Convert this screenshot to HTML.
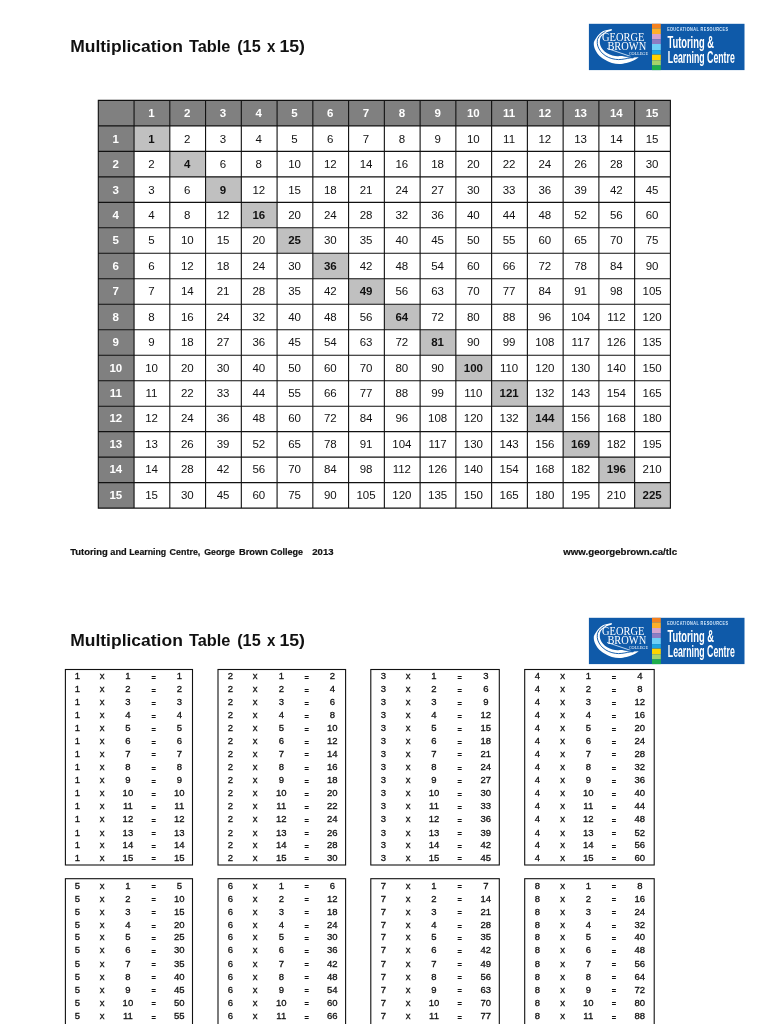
<!DOCTYPE html>
<html lang="en">
<head>
<meta charset="utf-8">
<title>Multiplication Table (15 x 15)</title>
<style>
html,body{margin:0;padding:0;background:#fff;}
body{width:768px;height:1024px;overflow:hidden;}
svg{display:block;}
text{font-family:"Liberation Sans",sans-serif;}
.logo .sf{font-family:"Liberation Serif",serif;}
.title{font-weight:bold;font-size:16.3px;fill:#111;}
.grid text{font-size:11.5px;text-anchor:middle;}
.grid .h{fill:#fff;font-weight:bold;}
.grid .d{fill:#111;font-weight:bold;}
.grid .n{fill:#111;}
.foot{font-weight:bold;font-size:9.4px;fill:#111;stroke:#111;stroke-width:0.2px;}
.tables .e{font-size:7.4px;}
.tables text{font-size:9.5px;fill:#111;text-anchor:middle;stroke:#111;stroke-width:0.3px;}
</style>
</head>
<body>
<svg width="768" height="1024" viewBox="0 0 768 1024">
<rect width="768" height="1024" fill="#fff"/>
<text class="title" y="52.1"><tspan x="70.2" textLength="117.5" lengthAdjust="spacingAndGlyphs">Multiplication </tspan><tspan x="189" textLength="46" lengthAdjust="spacingAndGlyphs">Table </tspan><tspan x="237.2" textLength="28" lengthAdjust="spacingAndGlyphs">(15 </tspan><tspan x="267" textLength="12.6" lengthAdjust="spacingAndGlyphs">x </tspan><tspan x="279.4" textLength="25.6" lengthAdjust="spacingAndGlyphs">15)</tspan></text>
<g class="logo" transform="translate(0,0)">
<rect x="588.9" y="23.8" width="155.6" height="46.3" fill="#0f5aa9"/>
<rect x="652" y="23.8" width="8.8" height="4.6" fill="#f58220"/>
<rect x="652" y="28.4" width="8.8" height="5.6" fill="#fdb02a"/>
<rect x="652" y="34" width="8.8" height="5.4" fill="#d3a3cf"/>
<rect x="652" y="39.4" width="8.8" height="4.6" fill="#8e7cc3"/>
<rect x="652" y="44" width="8.8" height="6.2" fill="#6fd0f6"/>
<rect x="652" y="50.2" width="8.8" height="4" fill="#1ea6e0"/>
<rect x="652" y="54.6" width="8.8" height="5.8" fill="#ffd400"/>
<rect x="652" y="60.4" width="8.8" height="5" fill="#a6d36a"/>
<rect x="652" y="65.4" width="8.8" height="4.7" fill="#1fae4b"/>
<path d="M611.8 28.9C610.5 29.2 606.3 29.7 604.1 30.7C601.9 31.7 599.9 33.3 598.4 34.9C596.9 36.5 595.7 38.6 594.9 40.1C594.1 41.6 593.8 42.2 593.8 43.6C593.8 45.0 593.9 46.4 594.6 48.2C595.3 50.0 596.6 52.5 598.2 54.4C599.9 56.3 602.2 58.2 604.5 59.6C606.8 61.0 609.4 62.2 611.9 62.9C614.4 63.6 616.8 63.9 619.2 63.9C621.6 63.9 624.2 63.4 626.5 62.9C628.8 62.4 631.0 61.7 633.0 60.7C635.0 59.8 637.8 57.8 638.7 57.2L633.2 57.6C632.2 57.4 628.9 56.9 627.0 56.6C625.1 56.4 623.4 56.2 621.8 56.1C620.2 56.0 619.2 56.3 617.6 56.2C616.0 56.1 614.1 55.9 612.4 55.4C610.7 54.9 608.8 54.2 607.2 53.3C605.6 52.3 604.1 51.0 603.0 49.7C601.9 48.4 600.9 46.8 600.4 45.4C599.9 44.0 599.7 42.7 599.8 41.2C599.9 39.7 600.3 37.9 601.2 36.6C602.1 35.3 603.3 34.2 605.1 33.2C606.9 32.2 610.7 31.0 611.8 30.6Z" fill="#fff"/>
<path d="M605.4 31.5C604.6 32.0 601.9 33.6 600.7 34.7C599.5 35.8 598.7 37.0 598.1 38.1C597.5 39.2 597.3 39.9 597.3 41.2C597.2 42.5 597.2 44.4 597.8 46.1C598.4 47.9 599.5 50.0 600.8 51.6C602.1 53.2 604.0 54.9 605.9 56.0C607.7 57.2 609.8 58.0 611.9 58.6C614.0 59.2 616.5 59.6 618.6 59.6C620.8 59.6 623.0 59.2 624.9 58.9C626.8 58.6 628.8 58.1 630.2 57.9C631.6 57.7 632.9 57.7 633.4 57.7" fill="none" stroke="#0f5aa9" stroke-width="0.95"/>
<path d="M607 48.4 L630.6 56.4" fill="none" stroke="#cfe3f7" stroke-width="0.9"/>
<path d="M622.6 56 L634.6 56.7 L632.6 58.2 C629 57.7 625.6 56.9 622.6 56 Z" fill="#0f5aa9"/>
<text x="602" y="41.4" class="sf" font-size="13.2" fill="#fff" textLength="42.3" lengthAdjust="spacingAndGlyphs">GEORGE</text>
<text x="607.4" y="49.6" class="sf" font-size="11.9" fill="#fff" textLength="38.8" lengthAdjust="spacingAndGlyphs">BROWN</text>
<text x="628.8" y="54.5" class="sf" font-size="4.2" fill="#fff" textLength="19.2" lengthAdjust="spacingAndGlyphs">COLLEGE</text>
<text transform="translate(667.2,31.3) scale(0.62,1)" font-weight="bold" font-size="6.1" letter-spacing="0.7" fill="#d6e9fb">EDUCATIONAL RESOURCES</text>
<text x="667.4" y="47.5" font-weight="bold" font-size="16.2" fill="#fff" textLength="46.6" lengthAdjust="spacingAndGlyphs">Tutoring &amp;</text>
<text x="667.8" y="63.4" font-weight="bold" font-size="16.2" fill="#fff" textLength="67" lengthAdjust="spacingAndGlyphs">Learning Centre</text>
</g>
<g class="grid">
<rect x="98.3" y="100.4" width="572.1" height="25.48" fill="#808080"/>
<rect x="98.3" y="100.4" width="35.76" height="407.7" fill="#808080"/>
<rect x="134.06" y="125.88" width="35.76" height="25.48" fill="#c0c0c0"/>
<rect x="169.81" y="151.36" width="35.76" height="25.48" fill="#c0c0c0"/>
<rect x="205.57" y="176.84" width="35.76" height="25.48" fill="#c0c0c0"/>
<rect x="241.32" y="202.33" width="35.76" height="25.48" fill="#c0c0c0"/>
<rect x="277.08" y="227.81" width="35.76" height="25.48" fill="#c0c0c0"/>
<rect x="312.84" y="253.29" width="35.76" height="25.48" fill="#c0c0c0"/>
<rect x="348.59" y="278.77" width="35.76" height="25.48" fill="#c0c0c0"/>
<rect x="384.35" y="304.25" width="35.76" height="25.48" fill="#c0c0c0"/>
<rect x="420.11" y="329.73" width="35.76" height="25.48" fill="#c0c0c0"/>
<rect x="455.86" y="355.21" width="35.76" height="25.48" fill="#c0c0c0"/>
<rect x="491.62" y="380.69" width="35.76" height="25.48" fill="#c0c0c0"/>
<rect x="527.38" y="406.18" width="35.76" height="25.48" fill="#c0c0c0"/>
<rect x="563.13" y="431.66" width="35.76" height="25.48" fill="#c0c0c0"/>
<rect x="598.89" y="457.14" width="35.76" height="25.48" fill="#c0c0c0"/>
<rect x="634.64" y="482.62" width="35.76" height="25.48" fill="#c0c0c0"/>
<path d="M98.3 99.9V508.6M97.8 100.4H670.9M134.06 99.9V508.6M97.8 125.88H670.9M169.81 99.9V508.6M97.8 151.36H670.9M205.57 99.9V508.6M97.8 176.84H670.9M241.32 99.9V508.6M97.8 202.33H670.9M277.08 99.9V508.6M97.8 227.81H670.9M312.84 99.9V508.6M97.8 253.29H670.9M348.59 99.9V508.6M97.8 278.77H670.9M384.35 99.9V508.6M97.8 304.25H670.9M420.11 99.9V508.6M97.8 329.73H670.9M455.86 99.9V508.6M97.8 355.21H670.9M491.62 99.9V508.6M97.8 380.69H670.9M527.38 99.9V508.6M97.8 406.18H670.9M563.13 99.9V508.6M97.8 431.66H670.9M598.89 99.9V508.6M97.8 457.14H670.9M634.64 99.9V508.6M97.8 482.62H670.9M670.4 99.9V508.6M97.8 508.1H670.9" stroke="#111" stroke-width="1.1" fill="none"/>
<text class="h" x="151.53" y="116.5">1</text><text class="h" x="187.29" y="116.5">2</text><text class="h" x="223.05" y="116.5">3</text><text class="h" x="258.8" y="116.5">4</text><text class="h" x="294.56" y="116.5">5</text><text class="h" x="330.32" y="116.5">6</text><text class="h" x="366.07" y="116.5">7</text><text class="h" x="401.83" y="116.5">8</text><text class="h" x="437.58" y="116.5">9</text><text class="h" x="473.34" y="116.5">10</text><text class="h" x="509.1" y="116.5">11</text><text class="h" x="544.85" y="116.5">12</text><text class="h" x="580.61" y="116.5">13</text><text class="h" x="616.37" y="116.5">14</text><text class="h" x="652.12" y="116.5">15</text>
<text class="h" x="115.78" y="142.73">1</text><text class="d" x="151.53" y="142.73">1</text><text class="n" x="187.29" y="142.73">2</text><text class="n" x="223.05" y="142.73">3</text><text class="n" x="258.8" y="142.73">4</text><text class="n" x="294.56" y="142.73">5</text><text class="n" x="330.32" y="142.73">6</text><text class="n" x="366.07" y="142.73">7</text><text class="n" x="401.83" y="142.73">8</text><text class="n" x="437.58" y="142.73">9</text><text class="n" x="473.34" y="142.73">10</text><text class="n" x="509.1" y="142.73">11</text><text class="n" x="544.85" y="142.73">12</text><text class="n" x="580.61" y="142.73">13</text><text class="n" x="616.37" y="142.73">14</text><text class="n" x="652.12" y="142.73">15</text>
<text class="h" x="115.78" y="168.16">2</text><text class="n" x="151.53" y="168.16">2</text><text class="d" x="187.29" y="168.16">4</text><text class="n" x="223.05" y="168.16">6</text><text class="n" x="258.8" y="168.16">8</text><text class="n" x="294.56" y="168.16">10</text><text class="n" x="330.32" y="168.16">12</text><text class="n" x="366.07" y="168.16">14</text><text class="n" x="401.83" y="168.16">16</text><text class="n" x="437.58" y="168.16">18</text><text class="n" x="473.34" y="168.16">20</text><text class="n" x="509.1" y="168.16">22</text><text class="n" x="544.85" y="168.16">24</text><text class="n" x="580.61" y="168.16">26</text><text class="n" x="616.37" y="168.16">28</text><text class="n" x="652.12" y="168.16">30</text>
<text class="h" x="115.78" y="193.59">3</text><text class="n" x="151.53" y="193.59">3</text><text class="n" x="187.29" y="193.59">6</text><text class="d" x="223.05" y="193.59">9</text><text class="n" x="258.8" y="193.59">12</text><text class="n" x="294.56" y="193.59">15</text><text class="n" x="330.32" y="193.59">18</text><text class="n" x="366.07" y="193.59">21</text><text class="n" x="401.83" y="193.59">24</text><text class="n" x="437.58" y="193.59">27</text><text class="n" x="473.34" y="193.59">30</text><text class="n" x="509.1" y="193.59">33</text><text class="n" x="544.85" y="193.59">36</text><text class="n" x="580.61" y="193.59">39</text><text class="n" x="616.37" y="193.59">42</text><text class="n" x="652.12" y="193.59">45</text>
<text class="h" x="115.78" y="219.02">4</text><text class="n" x="151.53" y="219.02">4</text><text class="n" x="187.29" y="219.02">8</text><text class="n" x="223.05" y="219.02">12</text><text class="d" x="258.8" y="219.02">16</text><text class="n" x="294.56" y="219.02">20</text><text class="n" x="330.32" y="219.02">24</text><text class="n" x="366.07" y="219.02">28</text><text class="n" x="401.83" y="219.02">32</text><text class="n" x="437.58" y="219.02">36</text><text class="n" x="473.34" y="219.02">40</text><text class="n" x="509.1" y="219.02">44</text><text class="n" x="544.85" y="219.02">48</text><text class="n" x="580.61" y="219.02">52</text><text class="n" x="616.37" y="219.02">56</text><text class="n" x="652.12" y="219.02">60</text>
<text class="h" x="115.78" y="244.45">5</text><text class="n" x="151.53" y="244.45">5</text><text class="n" x="187.29" y="244.45">10</text><text class="n" x="223.05" y="244.45">15</text><text class="n" x="258.8" y="244.45">20</text><text class="d" x="294.56" y="244.45">25</text><text class="n" x="330.32" y="244.45">30</text><text class="n" x="366.07" y="244.45">35</text><text class="n" x="401.83" y="244.45">40</text><text class="n" x="437.58" y="244.45">45</text><text class="n" x="473.34" y="244.45">50</text><text class="n" x="509.1" y="244.45">55</text><text class="n" x="544.85" y="244.45">60</text><text class="n" x="580.61" y="244.45">65</text><text class="n" x="616.37" y="244.45">70</text><text class="n" x="652.12" y="244.45">75</text>
<text class="h" x="115.78" y="269.88">6</text><text class="n" x="151.53" y="269.88">6</text><text class="n" x="187.29" y="269.88">12</text><text class="n" x="223.05" y="269.88">18</text><text class="n" x="258.8" y="269.88">24</text><text class="n" x="294.56" y="269.88">30</text><text class="d" x="330.32" y="269.88">36</text><text class="n" x="366.07" y="269.88">42</text><text class="n" x="401.83" y="269.88">48</text><text class="n" x="437.58" y="269.88">54</text><text class="n" x="473.34" y="269.88">60</text><text class="n" x="509.1" y="269.88">66</text><text class="n" x="544.85" y="269.88">72</text><text class="n" x="580.61" y="269.88">78</text><text class="n" x="616.37" y="269.88">84</text><text class="n" x="652.12" y="269.88">90</text>
<text class="h" x="115.78" y="295.31">7</text><text class="n" x="151.53" y="295.31">7</text><text class="n" x="187.29" y="295.31">14</text><text class="n" x="223.05" y="295.31">21</text><text class="n" x="258.8" y="295.31">28</text><text class="n" x="294.56" y="295.31">35</text><text class="n" x="330.32" y="295.31">42</text><text class="d" x="366.07" y="295.31">49</text><text class="n" x="401.83" y="295.31">56</text><text class="n" x="437.58" y="295.31">63</text><text class="n" x="473.34" y="295.31">70</text><text class="n" x="509.1" y="295.31">77</text><text class="n" x="544.85" y="295.31">84</text><text class="n" x="580.61" y="295.31">91</text><text class="n" x="616.37" y="295.31">98</text><text class="n" x="652.12" y="295.31">105</text>
<text class="h" x="115.78" y="320.74">8</text><text class="n" x="151.53" y="320.74">8</text><text class="n" x="187.29" y="320.74">16</text><text class="n" x="223.05" y="320.74">24</text><text class="n" x="258.8" y="320.74">32</text><text class="n" x="294.56" y="320.74">40</text><text class="n" x="330.32" y="320.74">48</text><text class="n" x="366.07" y="320.74">56</text><text class="d" x="401.83" y="320.74">64</text><text class="n" x="437.58" y="320.74">72</text><text class="n" x="473.34" y="320.74">80</text><text class="n" x="509.1" y="320.74">88</text><text class="n" x="544.85" y="320.74">96</text><text class="n" x="580.61" y="320.74">104</text><text class="n" x="616.37" y="320.74">112</text><text class="n" x="652.12" y="320.74">120</text>
<text class="h" x="115.78" y="346.17">9</text><text class="n" x="151.53" y="346.17">9</text><text class="n" x="187.29" y="346.17">18</text><text class="n" x="223.05" y="346.17">27</text><text class="n" x="258.8" y="346.17">36</text><text class="n" x="294.56" y="346.17">45</text><text class="n" x="330.32" y="346.17">54</text><text class="n" x="366.07" y="346.17">63</text><text class="n" x="401.83" y="346.17">72</text><text class="d" x="437.58" y="346.17">81</text><text class="n" x="473.34" y="346.17">90</text><text class="n" x="509.1" y="346.17">99</text><text class="n" x="544.85" y="346.17">108</text><text class="n" x="580.61" y="346.17">117</text><text class="n" x="616.37" y="346.17">126</text><text class="n" x="652.12" y="346.17">135</text>
<text class="h" x="115.78" y="371.6">10</text><text class="n" x="151.53" y="371.6">10</text><text class="n" x="187.29" y="371.6">20</text><text class="n" x="223.05" y="371.6">30</text><text class="n" x="258.8" y="371.6">40</text><text class="n" x="294.56" y="371.6">50</text><text class="n" x="330.32" y="371.6">60</text><text class="n" x="366.07" y="371.6">70</text><text class="n" x="401.83" y="371.6">80</text><text class="n" x="437.58" y="371.6">90</text><text class="d" x="473.34" y="371.6">100</text><text class="n" x="509.1" y="371.6">110</text><text class="n" x="544.85" y="371.6">120</text><text class="n" x="580.61" y="371.6">130</text><text class="n" x="616.37" y="371.6">140</text><text class="n" x="652.12" y="371.6">150</text>
<text class="h" x="115.78" y="397.03">11</text><text class="n" x="151.53" y="397.03">11</text><text class="n" x="187.29" y="397.03">22</text><text class="n" x="223.05" y="397.03">33</text><text class="n" x="258.8" y="397.03">44</text><text class="n" x="294.56" y="397.03">55</text><text class="n" x="330.32" y="397.03">66</text><text class="n" x="366.07" y="397.03">77</text><text class="n" x="401.83" y="397.03">88</text><text class="n" x="437.58" y="397.03">99</text><text class="n" x="473.34" y="397.03">110</text><text class="d" x="509.1" y="397.03">121</text><text class="n" x="544.85" y="397.03">132</text><text class="n" x="580.61" y="397.03">143</text><text class="n" x="616.37" y="397.03">154</text><text class="n" x="652.12" y="397.03">165</text>
<text class="h" x="115.78" y="422.46">12</text><text class="n" x="151.53" y="422.46">12</text><text class="n" x="187.29" y="422.46">24</text><text class="n" x="223.05" y="422.46">36</text><text class="n" x="258.8" y="422.46">48</text><text class="n" x="294.56" y="422.46">60</text><text class="n" x="330.32" y="422.46">72</text><text class="n" x="366.07" y="422.46">84</text><text class="n" x="401.83" y="422.46">96</text><text class="n" x="437.58" y="422.46">108</text><text class="n" x="473.34" y="422.46">120</text><text class="n" x="509.1" y="422.46">132</text><text class="d" x="544.85" y="422.46">144</text><text class="n" x="580.61" y="422.46">156</text><text class="n" x="616.37" y="422.46">168</text><text class="n" x="652.12" y="422.46">180</text>
<text class="h" x="115.78" y="447.89">13</text><text class="n" x="151.53" y="447.89">13</text><text class="n" x="187.29" y="447.89">26</text><text class="n" x="223.05" y="447.89">39</text><text class="n" x="258.8" y="447.89">52</text><text class="n" x="294.56" y="447.89">65</text><text class="n" x="330.32" y="447.89">78</text><text class="n" x="366.07" y="447.89">91</text><text class="n" x="401.83" y="447.89">104</text><text class="n" x="437.58" y="447.89">117</text><text class="n" x="473.34" y="447.89">130</text><text class="n" x="509.1" y="447.89">143</text><text class="n" x="544.85" y="447.89">156</text><text class="d" x="580.61" y="447.89">169</text><text class="n" x="616.37" y="447.89">182</text><text class="n" x="652.12" y="447.89">195</text>
<text class="h" x="115.78" y="473.32">14</text><text class="n" x="151.53" y="473.32">14</text><text class="n" x="187.29" y="473.32">28</text><text class="n" x="223.05" y="473.32">42</text><text class="n" x="258.8" y="473.32">56</text><text class="n" x="294.56" y="473.32">70</text><text class="n" x="330.32" y="473.32">84</text><text class="n" x="366.07" y="473.32">98</text><text class="n" x="401.83" y="473.32">112</text><text class="n" x="437.58" y="473.32">126</text><text class="n" x="473.34" y="473.32">140</text><text class="n" x="509.1" y="473.32">154</text><text class="n" x="544.85" y="473.32">168</text><text class="n" x="580.61" y="473.32">182</text><text class="d" x="616.37" y="473.32">196</text><text class="n" x="652.12" y="473.32">210</text>
<text class="h" x="115.78" y="498.75">15</text><text class="n" x="151.53" y="498.75">15</text><text class="n" x="187.29" y="498.75">30</text><text class="n" x="223.05" y="498.75">45</text><text class="n" x="258.8" y="498.75">60</text><text class="n" x="294.56" y="498.75">75</text><text class="n" x="330.32" y="498.75">90</text><text class="n" x="366.07" y="498.75">105</text><text class="n" x="401.83" y="498.75">120</text><text class="n" x="437.58" y="498.75">135</text><text class="n" x="473.34" y="498.75">150</text><text class="n" x="509.1" y="498.75">165</text><text class="n" x="544.85" y="498.75">180</text><text class="n" x="580.61" y="498.75">195</text><text class="n" x="616.37" y="498.75">210</text><text class="d" x="652.12" y="498.75">225</text>
</g>
<text class="foot" y="554.7"><tspan x="70.2" textLength="40.2" lengthAdjust="spacingAndGlyphs">Tutoring </tspan><tspan x="110.3" textLength="19" lengthAdjust="spacingAndGlyphs">and </tspan><tspan x="129.2" textLength="39.4" lengthAdjust="spacingAndGlyphs">Learning </tspan><tspan x="169.6" textLength="33.2" lengthAdjust="spacingAndGlyphs">Centre, </tspan><tspan x="204.2" textLength="33.2" lengthAdjust="spacingAndGlyphs">George </tspan><tspan x="239" textLength="31.4" lengthAdjust="spacingAndGlyphs">Brown </tspan><tspan x="270.4" textLength="35" lengthAdjust="spacingAndGlyphs">College </tspan><tspan x="312.3" textLength="21.2" lengthAdjust="spacingAndGlyphs">2013</tspan></text>
<text class="foot" x="563.3" y="554.7" textLength="113.8" lengthAdjust="spacingAndGlyphs">www.georgebrown.ca/tlc</text>
<text class="title" y="646.3"><tspan x="70.2" textLength="117.5" lengthAdjust="spacingAndGlyphs">Multiplication </tspan><tspan x="189" textLength="46" lengthAdjust="spacingAndGlyphs">Table </tspan><tspan x="237.2" textLength="28" lengthAdjust="spacingAndGlyphs">(15 </tspan><tspan x="267" textLength="12.6" lengthAdjust="spacingAndGlyphs">x </tspan><tspan x="279.4" textLength="25.6" lengthAdjust="spacingAndGlyphs">15)</tspan></text>
<g class="logo" transform="translate(0,594)">
<rect x="588.9" y="23.8" width="155.6" height="46.3" fill="#0f5aa9"/>
<rect x="652" y="23.8" width="8.8" height="4.6" fill="#f58220"/>
<rect x="652" y="28.4" width="8.8" height="5.6" fill="#fdb02a"/>
<rect x="652" y="34" width="8.8" height="5.4" fill="#d3a3cf"/>
<rect x="652" y="39.4" width="8.8" height="4.6" fill="#8e7cc3"/>
<rect x="652" y="44" width="8.8" height="6.2" fill="#6fd0f6"/>
<rect x="652" y="50.2" width="8.8" height="4" fill="#1ea6e0"/>
<rect x="652" y="54.6" width="8.8" height="5.8" fill="#ffd400"/>
<rect x="652" y="60.4" width="8.8" height="5" fill="#a6d36a"/>
<rect x="652" y="65.4" width="8.8" height="4.7" fill="#1fae4b"/>
<path d="M611.8 28.9C610.5 29.2 606.3 29.7 604.1 30.7C601.9 31.7 599.9 33.3 598.4 34.9C596.9 36.5 595.7 38.6 594.9 40.1C594.1 41.6 593.8 42.2 593.8 43.6C593.8 45.0 593.9 46.4 594.6 48.2C595.3 50.0 596.6 52.5 598.2 54.4C599.9 56.3 602.2 58.2 604.5 59.6C606.8 61.0 609.4 62.2 611.9 62.9C614.4 63.6 616.8 63.9 619.2 63.9C621.6 63.9 624.2 63.4 626.5 62.9C628.8 62.4 631.0 61.7 633.0 60.7C635.0 59.8 637.8 57.8 638.7 57.2L633.2 57.6C632.2 57.4 628.9 56.9 627.0 56.6C625.1 56.4 623.4 56.2 621.8 56.1C620.2 56.0 619.2 56.3 617.6 56.2C616.0 56.1 614.1 55.9 612.4 55.4C610.7 54.9 608.8 54.2 607.2 53.3C605.6 52.3 604.1 51.0 603.0 49.7C601.9 48.4 600.9 46.8 600.4 45.4C599.9 44.0 599.7 42.7 599.8 41.2C599.9 39.7 600.3 37.9 601.2 36.6C602.1 35.3 603.3 34.2 605.1 33.2C606.9 32.2 610.7 31.0 611.8 30.6Z" fill="#fff"/>
<path d="M605.4 31.5C604.6 32.0 601.9 33.6 600.7 34.7C599.5 35.8 598.7 37.0 598.1 38.1C597.5 39.2 597.3 39.9 597.3 41.2C597.2 42.5 597.2 44.4 597.8 46.1C598.4 47.9 599.5 50.0 600.8 51.6C602.1 53.2 604.0 54.9 605.9 56.0C607.7 57.2 609.8 58.0 611.9 58.6C614.0 59.2 616.5 59.6 618.6 59.6C620.8 59.6 623.0 59.2 624.9 58.9C626.8 58.6 628.8 58.1 630.2 57.9C631.6 57.7 632.9 57.7 633.4 57.7" fill="none" stroke="#0f5aa9" stroke-width="0.95"/>
<path d="M607 48.4 L630.6 56.4" fill="none" stroke="#cfe3f7" stroke-width="0.9"/>
<path d="M622.6 56 L634.6 56.7 L632.6 58.2 C629 57.7 625.6 56.9 622.6 56 Z" fill="#0f5aa9"/>
<text x="602" y="41.4" class="sf" font-size="13.2" fill="#fff" textLength="42.3" lengthAdjust="spacingAndGlyphs">GEORGE</text>
<text x="607.4" y="49.6" class="sf" font-size="11.9" fill="#fff" textLength="38.8" lengthAdjust="spacingAndGlyphs">BROWN</text>
<text x="628.8" y="54.5" class="sf" font-size="4.2" fill="#fff" textLength="19.2" lengthAdjust="spacingAndGlyphs">COLLEGE</text>
<text transform="translate(667.2,31.3) scale(0.62,1)" font-weight="bold" font-size="6.1" letter-spacing="0.7" fill="#d6e9fb">EDUCATIONAL RESOURCES</text>
<text x="667.4" y="47.5" font-weight="bold" font-size="16.2" fill="#fff" textLength="46.6" lengthAdjust="spacingAndGlyphs">Tutoring &amp;</text>
<text x="667.8" y="63.4" font-weight="bold" font-size="16.2" fill="#fff" textLength="67" lengthAdjust="spacingAndGlyphs">Learning Centre</text>
</g>
<g class="tables">
<rect x="65.4" y="669.5" width="127.1" height="195.5" fill="none" stroke="#111" stroke-width="1.1"/>
<text class="t" y="679.1"><tspan x="77.5">1</tspan><tspan x="102.1">x</tspan><tspan x="127.9">1</tspan><tspan class="e" x="153.7" dy="0.5">=</tspan><tspan x="179.3" dy="-0.5">1</tspan></text>
<text class="t" y="692"><tspan x="77.5">1</tspan><tspan x="102.1">x</tspan><tspan x="127.9">2</tspan><tspan class="e" x="153.7" dy="0.5">=</tspan><tspan x="179.3" dy="-0.5">2</tspan></text>
<text class="t" y="705"><tspan x="77.5">1</tspan><tspan x="102.1">x</tspan><tspan x="127.9">3</tspan><tspan class="e" x="153.7" dy="0.5">=</tspan><tspan x="179.3" dy="-0.5">3</tspan></text>
<text class="t" y="718.2"><tspan x="77.5">1</tspan><tspan x="102.1">x</tspan><tspan x="127.9">4</tspan><tspan class="e" x="153.7" dy="0.5">=</tspan><tspan x="179.3" dy="-0.5">4</tspan></text>
<text class="t" y="731.3"><tspan x="77.5">1</tspan><tspan x="102.1">x</tspan><tspan x="127.9">5</tspan><tspan class="e" x="153.7" dy="0.5">=</tspan><tspan x="179.3" dy="-0.5">5</tspan></text>
<text class="t" y="744.3"><tspan x="77.5">1</tspan><tspan x="102.1">x</tspan><tspan x="127.9">6</tspan><tspan class="e" x="153.7" dy="0.5">=</tspan><tspan x="179.3" dy="-0.5">6</tspan></text>
<text class="t" y="756.8"><tspan x="77.5">1</tspan><tspan x="102.1">x</tspan><tspan x="127.9">7</tspan><tspan class="e" x="153.7" dy="0.5">=</tspan><tspan x="179.3" dy="-0.5">7</tspan></text>
<text class="t" y="770"><tspan x="77.5">1</tspan><tspan x="102.1">x</tspan><tspan x="127.9">8</tspan><tspan class="e" x="153.7" dy="0.5">=</tspan><tspan x="179.3" dy="-0.5">8</tspan></text>
<text class="t" y="783.4"><tspan x="77.5">1</tspan><tspan x="102.1">x</tspan><tspan x="127.9">9</tspan><tspan class="e" x="153.7" dy="0.5">=</tspan><tspan x="179.3" dy="-0.5">9</tspan></text>
<text class="t" y="796.3"><tspan x="77.5">1</tspan><tspan x="102.1">x</tspan><tspan x="127.9">10</tspan><tspan class="e" x="153.7" dy="0.5">=</tspan><tspan x="179.3" dy="-0.5">10</tspan></text>
<text class="t" y="809.2"><tspan x="77.5">1</tspan><tspan x="102.1">x</tspan><tspan x="127.9">11</tspan><tspan class="e" x="153.7" dy="0.5">=</tspan><tspan x="179.3" dy="-0.5">11</tspan></text>
<text class="t" y="822.3"><tspan x="77.5">1</tspan><tspan x="102.1">x</tspan><tspan x="127.9">12</tspan><tspan class="e" x="153.7" dy="0.5">=</tspan><tspan x="179.3" dy="-0.5">12</tspan></text>
<text class="t" y="835.5"><tspan x="77.5">1</tspan><tspan x="102.1">x</tspan><tspan x="127.9">13</tspan><tspan class="e" x="153.7" dy="0.5">=</tspan><tspan x="179.3" dy="-0.5">13</tspan></text>
<text class="t" y="848"><tspan x="77.5">1</tspan><tspan x="102.1">x</tspan><tspan x="127.9">14</tspan><tspan class="e" x="153.7" dy="0.5">=</tspan><tspan x="179.3" dy="-0.5">14</tspan></text>
<text class="t" y="860.9"><tspan x="77.5">1</tspan><tspan x="102.1">x</tspan><tspan x="127.9">15</tspan><tspan class="e" x="153.7" dy="0.5">=</tspan><tspan x="179.3" dy="-0.5">15</tspan></text>
<rect x="218" y="669.5" width="127.6" height="195.5" fill="none" stroke="#111" stroke-width="1.1"/>
<text class="t" y="679.1"><tspan x="230.3">2</tspan><tspan x="255">x</tspan><tspan x="281.3">1</tspan><tspan class="e" x="306.6" dy="0.5">=</tspan><tspan x="332.3" dy="-0.5">2</tspan></text>
<text class="t" y="692"><tspan x="230.3">2</tspan><tspan x="255">x</tspan><tspan x="281.3">2</tspan><tspan class="e" x="306.6" dy="0.5">=</tspan><tspan x="332.3" dy="-0.5">4</tspan></text>
<text class="t" y="705"><tspan x="230.3">2</tspan><tspan x="255">x</tspan><tspan x="281.3">3</tspan><tspan class="e" x="306.6" dy="0.5">=</tspan><tspan x="332.3" dy="-0.5">6</tspan></text>
<text class="t" y="718.2"><tspan x="230.3">2</tspan><tspan x="255">x</tspan><tspan x="281.3">4</tspan><tspan class="e" x="306.6" dy="0.5">=</tspan><tspan x="332.3" dy="-0.5">8</tspan></text>
<text class="t" y="731.3"><tspan x="230.3">2</tspan><tspan x="255">x</tspan><tspan x="281.3">5</tspan><tspan class="e" x="306.6" dy="0.5">=</tspan><tspan x="332.3" dy="-0.5">10</tspan></text>
<text class="t" y="744.3"><tspan x="230.3">2</tspan><tspan x="255">x</tspan><tspan x="281.3">6</tspan><tspan class="e" x="306.6" dy="0.5">=</tspan><tspan x="332.3" dy="-0.5">12</tspan></text>
<text class="t" y="756.8"><tspan x="230.3">2</tspan><tspan x="255">x</tspan><tspan x="281.3">7</tspan><tspan class="e" x="306.6" dy="0.5">=</tspan><tspan x="332.3" dy="-0.5">14</tspan></text>
<text class="t" y="770"><tspan x="230.3">2</tspan><tspan x="255">x</tspan><tspan x="281.3">8</tspan><tspan class="e" x="306.6" dy="0.5">=</tspan><tspan x="332.3" dy="-0.5">16</tspan></text>
<text class="t" y="783.4"><tspan x="230.3">2</tspan><tspan x="255">x</tspan><tspan x="281.3">9</tspan><tspan class="e" x="306.6" dy="0.5">=</tspan><tspan x="332.3" dy="-0.5">18</tspan></text>
<text class="t" y="796.3"><tspan x="230.3">2</tspan><tspan x="255">x</tspan><tspan x="281.3">10</tspan><tspan class="e" x="306.6" dy="0.5">=</tspan><tspan x="332.3" dy="-0.5">20</tspan></text>
<text class="t" y="809.2"><tspan x="230.3">2</tspan><tspan x="255">x</tspan><tspan x="281.3">11</tspan><tspan class="e" x="306.6" dy="0.5">=</tspan><tspan x="332.3" dy="-0.5">22</tspan></text>
<text class="t" y="822.3"><tspan x="230.3">2</tspan><tspan x="255">x</tspan><tspan x="281.3">12</tspan><tspan class="e" x="306.6" dy="0.5">=</tspan><tspan x="332.3" dy="-0.5">24</tspan></text>
<text class="t" y="835.5"><tspan x="230.3">2</tspan><tspan x="255">x</tspan><tspan x="281.3">13</tspan><tspan class="e" x="306.6" dy="0.5">=</tspan><tspan x="332.3" dy="-0.5">26</tspan></text>
<text class="t" y="848"><tspan x="230.3">2</tspan><tspan x="255">x</tspan><tspan x="281.3">14</tspan><tspan class="e" x="306.6" dy="0.5">=</tspan><tspan x="332.3" dy="-0.5">28</tspan></text>
<text class="t" y="860.9"><tspan x="230.3">2</tspan><tspan x="255">x</tspan><tspan x="281.3">15</tspan><tspan class="e" x="306.6" dy="0.5">=</tspan><tspan x="332.3" dy="-0.5">30</tspan></text>
<rect x="370.8" y="669.5" width="128.5" height="195.5" fill="none" stroke="#111" stroke-width="1.1"/>
<text class="t" y="679.1"><tspan x="383.4">3</tspan><tspan x="408.1">x</tspan><tspan x="434">1</tspan><tspan class="e" x="459.6" dy="0.5">=</tspan><tspan x="485.8" dy="-0.5">3</tspan></text>
<text class="t" y="692"><tspan x="383.4">3</tspan><tspan x="408.1">x</tspan><tspan x="434">2</tspan><tspan class="e" x="459.6" dy="0.5">=</tspan><tspan x="485.8" dy="-0.5">6</tspan></text>
<text class="t" y="705"><tspan x="383.4">3</tspan><tspan x="408.1">x</tspan><tspan x="434">3</tspan><tspan class="e" x="459.6" dy="0.5">=</tspan><tspan x="485.8" dy="-0.5">9</tspan></text>
<text class="t" y="718.2"><tspan x="383.4">3</tspan><tspan x="408.1">x</tspan><tspan x="434">4</tspan><tspan class="e" x="459.6" dy="0.5">=</tspan><tspan x="485.8" dy="-0.5">12</tspan></text>
<text class="t" y="731.3"><tspan x="383.4">3</tspan><tspan x="408.1">x</tspan><tspan x="434">5</tspan><tspan class="e" x="459.6" dy="0.5">=</tspan><tspan x="485.8" dy="-0.5">15</tspan></text>
<text class="t" y="744.3"><tspan x="383.4">3</tspan><tspan x="408.1">x</tspan><tspan x="434">6</tspan><tspan class="e" x="459.6" dy="0.5">=</tspan><tspan x="485.8" dy="-0.5">18</tspan></text>
<text class="t" y="756.8"><tspan x="383.4">3</tspan><tspan x="408.1">x</tspan><tspan x="434">7</tspan><tspan class="e" x="459.6" dy="0.5">=</tspan><tspan x="485.8" dy="-0.5">21</tspan></text>
<text class="t" y="770"><tspan x="383.4">3</tspan><tspan x="408.1">x</tspan><tspan x="434">8</tspan><tspan class="e" x="459.6" dy="0.5">=</tspan><tspan x="485.8" dy="-0.5">24</tspan></text>
<text class="t" y="783.4"><tspan x="383.4">3</tspan><tspan x="408.1">x</tspan><tspan x="434">9</tspan><tspan class="e" x="459.6" dy="0.5">=</tspan><tspan x="485.8" dy="-0.5">27</tspan></text>
<text class="t" y="796.3"><tspan x="383.4">3</tspan><tspan x="408.1">x</tspan><tspan x="434">10</tspan><tspan class="e" x="459.6" dy="0.5">=</tspan><tspan x="485.8" dy="-0.5">30</tspan></text>
<text class="t" y="809.2"><tspan x="383.4">3</tspan><tspan x="408.1">x</tspan><tspan x="434">11</tspan><tspan class="e" x="459.6" dy="0.5">=</tspan><tspan x="485.8" dy="-0.5">33</tspan></text>
<text class="t" y="822.3"><tspan x="383.4">3</tspan><tspan x="408.1">x</tspan><tspan x="434">12</tspan><tspan class="e" x="459.6" dy="0.5">=</tspan><tspan x="485.8" dy="-0.5">36</tspan></text>
<text class="t" y="835.5"><tspan x="383.4">3</tspan><tspan x="408.1">x</tspan><tspan x="434">13</tspan><tspan class="e" x="459.6" dy="0.5">=</tspan><tspan x="485.8" dy="-0.5">39</tspan></text>
<text class="t" y="848"><tspan x="383.4">3</tspan><tspan x="408.1">x</tspan><tspan x="434">14</tspan><tspan class="e" x="459.6" dy="0.5">=</tspan><tspan x="485.8" dy="-0.5">42</tspan></text>
<text class="t" y="860.9"><tspan x="383.4">3</tspan><tspan x="408.1">x</tspan><tspan x="434">15</tspan><tspan class="e" x="459.6" dy="0.5">=</tspan><tspan x="485.8" dy="-0.5">45</tspan></text>
<rect x="524.7" y="669.5" width="129.5" height="195.5" fill="none" stroke="#111" stroke-width="1.1"/>
<text class="t" y="679.1"><tspan x="537.3">4</tspan><tspan x="562.5">x</tspan><tspan x="588.3">1</tspan><tspan class="e" x="614" dy="0.5">=</tspan><tspan x="639.8" dy="-0.5">4</tspan></text>
<text class="t" y="692"><tspan x="537.3">4</tspan><tspan x="562.5">x</tspan><tspan x="588.3">2</tspan><tspan class="e" x="614" dy="0.5">=</tspan><tspan x="639.8" dy="-0.5">8</tspan></text>
<text class="t" y="705"><tspan x="537.3">4</tspan><tspan x="562.5">x</tspan><tspan x="588.3">3</tspan><tspan class="e" x="614" dy="0.5">=</tspan><tspan x="639.8" dy="-0.5">12</tspan></text>
<text class="t" y="718.2"><tspan x="537.3">4</tspan><tspan x="562.5">x</tspan><tspan x="588.3">4</tspan><tspan class="e" x="614" dy="0.5">=</tspan><tspan x="639.8" dy="-0.5">16</tspan></text>
<text class="t" y="731.3"><tspan x="537.3">4</tspan><tspan x="562.5">x</tspan><tspan x="588.3">5</tspan><tspan class="e" x="614" dy="0.5">=</tspan><tspan x="639.8" dy="-0.5">20</tspan></text>
<text class="t" y="744.3"><tspan x="537.3">4</tspan><tspan x="562.5">x</tspan><tspan x="588.3">6</tspan><tspan class="e" x="614" dy="0.5">=</tspan><tspan x="639.8" dy="-0.5">24</tspan></text>
<text class="t" y="756.8"><tspan x="537.3">4</tspan><tspan x="562.5">x</tspan><tspan x="588.3">7</tspan><tspan class="e" x="614" dy="0.5">=</tspan><tspan x="639.8" dy="-0.5">28</tspan></text>
<text class="t" y="770"><tspan x="537.3">4</tspan><tspan x="562.5">x</tspan><tspan x="588.3">8</tspan><tspan class="e" x="614" dy="0.5">=</tspan><tspan x="639.8" dy="-0.5">32</tspan></text>
<text class="t" y="783.4"><tspan x="537.3">4</tspan><tspan x="562.5">x</tspan><tspan x="588.3">9</tspan><tspan class="e" x="614" dy="0.5">=</tspan><tspan x="639.8" dy="-0.5">36</tspan></text>
<text class="t" y="796.3"><tspan x="537.3">4</tspan><tspan x="562.5">x</tspan><tspan x="588.3">10</tspan><tspan class="e" x="614" dy="0.5">=</tspan><tspan x="639.8" dy="-0.5">40</tspan></text>
<text class="t" y="809.2"><tspan x="537.3">4</tspan><tspan x="562.5">x</tspan><tspan x="588.3">11</tspan><tspan class="e" x="614" dy="0.5">=</tspan><tspan x="639.8" dy="-0.5">44</tspan></text>
<text class="t" y="822.3"><tspan x="537.3">4</tspan><tspan x="562.5">x</tspan><tspan x="588.3">12</tspan><tspan class="e" x="614" dy="0.5">=</tspan><tspan x="639.8" dy="-0.5">48</tspan></text>
<text class="t" y="835.5"><tspan x="537.3">4</tspan><tspan x="562.5">x</tspan><tspan x="588.3">13</tspan><tspan class="e" x="614" dy="0.5">=</tspan><tspan x="639.8" dy="-0.5">52</tspan></text>
<text class="t" y="848"><tspan x="537.3">4</tspan><tspan x="562.5">x</tspan><tspan x="588.3">14</tspan><tspan class="e" x="614" dy="0.5">=</tspan><tspan x="639.8" dy="-0.5">56</tspan></text>
<text class="t" y="860.9"><tspan x="537.3">4</tspan><tspan x="562.5">x</tspan><tspan x="588.3">15</tspan><tspan class="e" x="614" dy="0.5">=</tspan><tspan x="639.8" dy="-0.5">60</tspan></text>
<rect x="65.4" y="878.7" width="127.1" height="195.5" fill="none" stroke="#111" stroke-width="1.1"/>
<text class="t" y="888.5"><tspan x="77.5">5</tspan><tspan x="102.1">x</tspan><tspan x="127.9">1</tspan><tspan class="e" x="153.7" dy="0.5">=</tspan><tspan x="179.3" dy="-0.5">5</tspan></text>
<text class="t" y="901.7"><tspan x="77.5">5</tspan><tspan x="102.1">x</tspan><tspan x="127.9">2</tspan><tspan class="e" x="153.7" dy="0.5">=</tspan><tspan x="179.3" dy="-0.5">10</tspan></text>
<text class="t" y="914.9"><tspan x="77.5">5</tspan><tspan x="102.1">x</tspan><tspan x="127.9">3</tspan><tspan class="e" x="153.7" dy="0.5">=</tspan><tspan x="179.3" dy="-0.5">15</tspan></text>
<text class="t" y="928.1"><tspan x="77.5">5</tspan><tspan x="102.1">x</tspan><tspan x="127.9">4</tspan><tspan class="e" x="153.7" dy="0.5">=</tspan><tspan x="179.3" dy="-0.5">20</tspan></text>
<text class="t" y="940.3"><tspan x="77.5">5</tspan><tspan x="102.1">x</tspan><tspan x="127.9">5</tspan><tspan class="e" x="153.7" dy="0.5">=</tspan><tspan x="179.3" dy="-0.5">25</tspan></text>
<text class="t" y="953.3"><tspan x="77.5">5</tspan><tspan x="102.1">x</tspan><tspan x="127.9">6</tspan><tspan class="e" x="153.7" dy="0.5">=</tspan><tspan x="179.3" dy="-0.5">30</tspan></text>
<text class="t" y="966.5"><tspan x="77.5">5</tspan><tspan x="102.1">x</tspan><tspan x="127.9">7</tspan><tspan class="e" x="153.7" dy="0.5">=</tspan><tspan x="179.3" dy="-0.5">35</tspan></text>
<text class="t" y="979.6"><tspan x="77.5">5</tspan><tspan x="102.1">x</tspan><tspan x="127.9">8</tspan><tspan class="e" x="153.7" dy="0.5">=</tspan><tspan x="179.3" dy="-0.5">40</tspan></text>
<text class="t" y="992.8"><tspan x="77.5">5</tspan><tspan x="102.1">x</tspan><tspan x="127.9">9</tspan><tspan class="e" x="153.7" dy="0.5">=</tspan><tspan x="179.3" dy="-0.5">45</tspan></text>
<text class="t" y="1005.8"><tspan x="77.5">5</tspan><tspan x="102.1">x</tspan><tspan x="127.9">10</tspan><tspan class="e" x="153.7" dy="0.5">=</tspan><tspan x="179.3" dy="-0.5">50</tspan></text>
<text class="t" y="1019.1"><tspan x="77.5">5</tspan><tspan x="102.1">x</tspan><tspan x="127.9">11</tspan><tspan class="e" x="153.7" dy="0.5">=</tspan><tspan x="179.3" dy="-0.5">55</tspan></text>
<rect x="218" y="878.7" width="127.6" height="195.5" fill="none" stroke="#111" stroke-width="1.1"/>
<text class="t" y="888.5"><tspan x="230.3">6</tspan><tspan x="255">x</tspan><tspan x="281.3">1</tspan><tspan class="e" x="306.6" dy="0.5">=</tspan><tspan x="332.3" dy="-0.5">6</tspan></text>
<text class="t" y="901.7"><tspan x="230.3">6</tspan><tspan x="255">x</tspan><tspan x="281.3">2</tspan><tspan class="e" x="306.6" dy="0.5">=</tspan><tspan x="332.3" dy="-0.5">12</tspan></text>
<text class="t" y="914.9"><tspan x="230.3">6</tspan><tspan x="255">x</tspan><tspan x="281.3">3</tspan><tspan class="e" x="306.6" dy="0.5">=</tspan><tspan x="332.3" dy="-0.5">18</tspan></text>
<text class="t" y="928.1"><tspan x="230.3">6</tspan><tspan x="255">x</tspan><tspan x="281.3">4</tspan><tspan class="e" x="306.6" dy="0.5">=</tspan><tspan x="332.3" dy="-0.5">24</tspan></text>
<text class="t" y="940.3"><tspan x="230.3">6</tspan><tspan x="255">x</tspan><tspan x="281.3">5</tspan><tspan class="e" x="306.6" dy="0.5">=</tspan><tspan x="332.3" dy="-0.5">30</tspan></text>
<text class="t" y="953.3"><tspan x="230.3">6</tspan><tspan x="255">x</tspan><tspan x="281.3">6</tspan><tspan class="e" x="306.6" dy="0.5">=</tspan><tspan x="332.3" dy="-0.5">36</tspan></text>
<text class="t" y="966.5"><tspan x="230.3">6</tspan><tspan x="255">x</tspan><tspan x="281.3">7</tspan><tspan class="e" x="306.6" dy="0.5">=</tspan><tspan x="332.3" dy="-0.5">42</tspan></text>
<text class="t" y="979.6"><tspan x="230.3">6</tspan><tspan x="255">x</tspan><tspan x="281.3">8</tspan><tspan class="e" x="306.6" dy="0.5">=</tspan><tspan x="332.3" dy="-0.5">48</tspan></text>
<text class="t" y="992.8"><tspan x="230.3">6</tspan><tspan x="255">x</tspan><tspan x="281.3">9</tspan><tspan class="e" x="306.6" dy="0.5">=</tspan><tspan x="332.3" dy="-0.5">54</tspan></text>
<text class="t" y="1005.8"><tspan x="230.3">6</tspan><tspan x="255">x</tspan><tspan x="281.3">10</tspan><tspan class="e" x="306.6" dy="0.5">=</tspan><tspan x="332.3" dy="-0.5">60</tspan></text>
<text class="t" y="1019.1"><tspan x="230.3">6</tspan><tspan x="255">x</tspan><tspan x="281.3">11</tspan><tspan class="e" x="306.6" dy="0.5">=</tspan><tspan x="332.3" dy="-0.5">66</tspan></text>
<rect x="370.8" y="878.7" width="128.5" height="195.5" fill="none" stroke="#111" stroke-width="1.1"/>
<text class="t" y="888.5"><tspan x="383.4">7</tspan><tspan x="408.1">x</tspan><tspan x="434">1</tspan><tspan class="e" x="459.6" dy="0.5">=</tspan><tspan x="485.8" dy="-0.5">7</tspan></text>
<text class="t" y="901.7"><tspan x="383.4">7</tspan><tspan x="408.1">x</tspan><tspan x="434">2</tspan><tspan class="e" x="459.6" dy="0.5">=</tspan><tspan x="485.8" dy="-0.5">14</tspan></text>
<text class="t" y="914.9"><tspan x="383.4">7</tspan><tspan x="408.1">x</tspan><tspan x="434">3</tspan><tspan class="e" x="459.6" dy="0.5">=</tspan><tspan x="485.8" dy="-0.5">21</tspan></text>
<text class="t" y="928.1"><tspan x="383.4">7</tspan><tspan x="408.1">x</tspan><tspan x="434">4</tspan><tspan class="e" x="459.6" dy="0.5">=</tspan><tspan x="485.8" dy="-0.5">28</tspan></text>
<text class="t" y="940.3"><tspan x="383.4">7</tspan><tspan x="408.1">x</tspan><tspan x="434">5</tspan><tspan class="e" x="459.6" dy="0.5">=</tspan><tspan x="485.8" dy="-0.5">35</tspan></text>
<text class="t" y="953.3"><tspan x="383.4">7</tspan><tspan x="408.1">x</tspan><tspan x="434">6</tspan><tspan class="e" x="459.6" dy="0.5">=</tspan><tspan x="485.8" dy="-0.5">42</tspan></text>
<text class="t" y="966.5"><tspan x="383.4">7</tspan><tspan x="408.1">x</tspan><tspan x="434">7</tspan><tspan class="e" x="459.6" dy="0.5">=</tspan><tspan x="485.8" dy="-0.5">49</tspan></text>
<text class="t" y="979.6"><tspan x="383.4">7</tspan><tspan x="408.1">x</tspan><tspan x="434">8</tspan><tspan class="e" x="459.6" dy="0.5">=</tspan><tspan x="485.8" dy="-0.5">56</tspan></text>
<text class="t" y="992.8"><tspan x="383.4">7</tspan><tspan x="408.1">x</tspan><tspan x="434">9</tspan><tspan class="e" x="459.6" dy="0.5">=</tspan><tspan x="485.8" dy="-0.5">63</tspan></text>
<text class="t" y="1005.8"><tspan x="383.4">7</tspan><tspan x="408.1">x</tspan><tspan x="434">10</tspan><tspan class="e" x="459.6" dy="0.5">=</tspan><tspan x="485.8" dy="-0.5">70</tspan></text>
<text class="t" y="1019.1"><tspan x="383.4">7</tspan><tspan x="408.1">x</tspan><tspan x="434">11</tspan><tspan class="e" x="459.6" dy="0.5">=</tspan><tspan x="485.8" dy="-0.5">77</tspan></text>
<rect x="524.7" y="878.7" width="129.5" height="195.5" fill="none" stroke="#111" stroke-width="1.1"/>
<text class="t" y="888.5"><tspan x="537.3">8</tspan><tspan x="562.5">x</tspan><tspan x="588.3">1</tspan><tspan class="e" x="614" dy="0.5">=</tspan><tspan x="639.8" dy="-0.5">8</tspan></text>
<text class="t" y="901.7"><tspan x="537.3">8</tspan><tspan x="562.5">x</tspan><tspan x="588.3">2</tspan><tspan class="e" x="614" dy="0.5">=</tspan><tspan x="639.8" dy="-0.5">16</tspan></text>
<text class="t" y="914.9"><tspan x="537.3">8</tspan><tspan x="562.5">x</tspan><tspan x="588.3">3</tspan><tspan class="e" x="614" dy="0.5">=</tspan><tspan x="639.8" dy="-0.5">24</tspan></text>
<text class="t" y="928.1"><tspan x="537.3">8</tspan><tspan x="562.5">x</tspan><tspan x="588.3">4</tspan><tspan class="e" x="614" dy="0.5">=</tspan><tspan x="639.8" dy="-0.5">32</tspan></text>
<text class="t" y="940.3"><tspan x="537.3">8</tspan><tspan x="562.5">x</tspan><tspan x="588.3">5</tspan><tspan class="e" x="614" dy="0.5">=</tspan><tspan x="639.8" dy="-0.5">40</tspan></text>
<text class="t" y="953.3"><tspan x="537.3">8</tspan><tspan x="562.5">x</tspan><tspan x="588.3">6</tspan><tspan class="e" x="614" dy="0.5">=</tspan><tspan x="639.8" dy="-0.5">48</tspan></text>
<text class="t" y="966.5"><tspan x="537.3">8</tspan><tspan x="562.5">x</tspan><tspan x="588.3">7</tspan><tspan class="e" x="614" dy="0.5">=</tspan><tspan x="639.8" dy="-0.5">56</tspan></text>
<text class="t" y="979.6"><tspan x="537.3">8</tspan><tspan x="562.5">x</tspan><tspan x="588.3">8</tspan><tspan class="e" x="614" dy="0.5">=</tspan><tspan x="639.8" dy="-0.5">64</tspan></text>
<text class="t" y="992.8"><tspan x="537.3">8</tspan><tspan x="562.5">x</tspan><tspan x="588.3">9</tspan><tspan class="e" x="614" dy="0.5">=</tspan><tspan x="639.8" dy="-0.5">72</tspan></text>
<text class="t" y="1005.8"><tspan x="537.3">8</tspan><tspan x="562.5">x</tspan><tspan x="588.3">10</tspan><tspan class="e" x="614" dy="0.5">=</tspan><tspan x="639.8" dy="-0.5">80</tspan></text>
<text class="t" y="1019.1"><tspan x="537.3">8</tspan><tspan x="562.5">x</tspan><tspan x="588.3">11</tspan><tspan class="e" x="614" dy="0.5">=</tspan><tspan x="639.8" dy="-0.5">88</tspan></text>
</g>
</svg>
</body>
</html>
